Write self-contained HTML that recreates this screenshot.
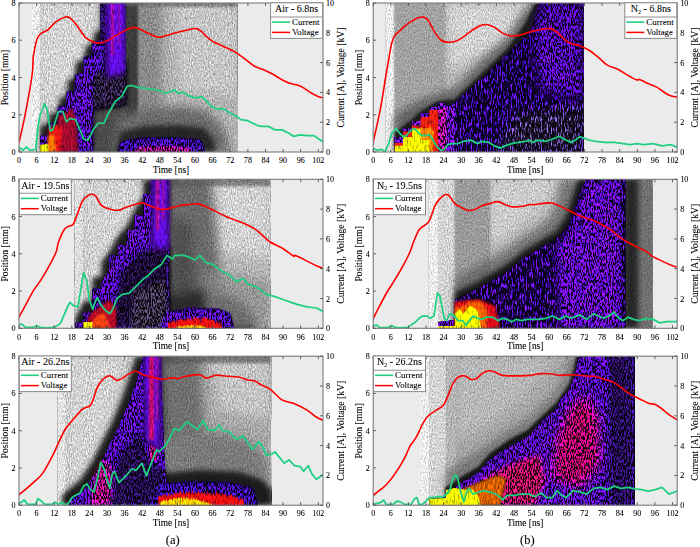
<!DOCTYPE html><html><head><meta charset="utf-8"><style>html,body{margin:0;padding:0;background:#fff;width:700px;height:547px;overflow:hidden}svg{display:block}text{font-family:"Liberation Serif", serif;fill:#000;stroke:#000;stroke-width:0.08px}.tl{font-size:8.1px}.al{font-size:9.6px}.lt{font-size:10px}.le{font-size:8.4px}.cap{font-size:12.5px}</style></head><body>
<svg width="700" height="547" viewBox="0 0 700 547">
<defs>
<filter id="b1" x="-20%" y="-20%" width="140%" height="140%"><feGaussianBlur stdDeviation="1"/></filter>
<filter id="b2" x="-20%" y="-20%" width="140%" height="140%"><feGaussianBlur stdDeviation="2.5"/></filter>
<filter id="b4" x="-30%" y="-30%" width="160%" height="160%"><feGaussianBlur stdDeviation="5"/></filter>
<filter id="mod" x="0" y="0" width="100%" height="100%" color-interpolation-filters="sRGB">
 <feTurbulence type="fractalNoise" baseFrequency="0.95 0.45" numOctaves="2" seed="3" result="t"/>
 <feColorMatrix in="t" type="matrix" values="1 0 0 0 0  1 0 0 0 0  1 0 0 0 0  0 0 0 0 1" result="n"/>
 <feComposite in="SourceGraphic" in2="n" operator="arithmetic" k1="0.8" k2="0.6" k3="0" k4="0"/>
</filter>
<filter id="modl" x="0" y="0" width="100%" height="100%" color-interpolation-filters="sRGB">
 <feTurbulence type="fractalNoise" baseFrequency="0.95 0.5" numOctaves="2" seed="5" result="t"/>
 <feColorMatrix in="t" type="matrix" values="1 0 0 0 0  1 0 0 0 0  1 0 0 0 0  0 0 0 0 1" result="n"/>
 <feComposite in="SourceGraphic" in2="n" operator="arithmetic" k1="0.7" k2="0.65" k3="0" k4="0"/>
</filter>
<filter id="mods" x="0" y="0" width="100%" height="100%" color-interpolation-filters="sRGB">
 <feTurbulence type="fractalNoise" baseFrequency="0.95 0.3" numOctaves="3" seed="11" result="t"/>
 <feComponentTransfer in="t" result="tt"><feFuncR type="linear" slope="4" intercept="-1.6"/></feComponentTransfer>
 <feColorMatrix in="tt" type="matrix" values="1 0 0 0 0  1 0 0 0 0  1 0 0 0 0  0 0 0 0 1" result="n"/>
 <feComposite in="SourceGraphic" in2="n" operator="arithmetic" k1="1.9" k2="0.1" k3="0" k4="0"/>
</filter>
<filter id="mody" x="0" y="0" width="100%" height="100%" color-interpolation-filters="sRGB">
 <feTurbulence type="fractalNoise" baseFrequency="0.7 0.2" numOctaves="3" seed="13" result="t"/>
 <feColorMatrix in="t" type="matrix" values="1 0 0 0 0  1 0 0 0 0  1 0 0 0 0  0 0 0 0 1" result="n"/>
 <feComposite in="SourceGraphic" in2="n" operator="arithmetic" k1="1.2" k2="0.4" k3="0" k4="0"/>
</filter>
<filter id="modd" x="0" y="0" width="100%" height="100%" color-interpolation-filters="sRGB">
 <feTurbulence type="fractalNoise" baseFrequency="0.8 0.18" numOctaves="3" seed="17" result="t"/>
 <feComponentTransfer in="t" result="tt"><feFuncR type="linear" slope="4" intercept="-2.0"/></feComponentTransfer>
 <feColorMatrix in="tt" type="matrix" values="1 0 0 0 0  1 0 0 0 0  1 0 0 0 0  0 0 0 0 1" result="n"/>
 <feComposite in="SourceGraphic" in2="n" operator="arithmetic" k1="1.6" k2="0.12" k3="0" k4="0"/>
</filter>
</defs>
<clipPath id="clip00"><rect x="19.0" y="3.0" width="304.0" height="149.0"/></clipPath>
<rect x="19.0" y="3.0" width="304.0" height="149.0" fill="#ebebeb"/>
<g clip-path="url(#clip00)">
<g filter="url(#mod)"><rect x="32" y="3" width="8.4" height="149" fill="#f2f2f2"/>
<rect x="40" y="3" width="197.4" height="149" fill="#c2c2c2"/>
<polygon points="40.0,3.0 100.0,3.0 92.0,40.0 70.0,80.0 40.0,120.0" fill="#d4d4d4" filter="url(#b4)"/>
<polygon points="126.0,3.0 237.0,3.0 237.0,152.0 126.0,152.0" fill="#b2b2b2" />
<polygon points="175.0,3.0 237.0,3.0 237.0,95.0 180.0,90.0" fill="#c6c6c6" filter="url(#b4)"/>
<polygon points="40.0,126.0 48.0,124.0 50.0,114.0 58.0,112.0 60.0,98.0 67.0,96.0 68.0,80.0 75.0,78.0 76.0,62.0 84.0,60.0 86.0,46.0 93.0,44.0 95.0,32.0 101.0,30.0 101.0,3.0 132.0,3.0 136.0,152.0 40.0,152.0" fill="#1e1e1e" filter="url(#b2)"/>
<polygon points="124.0,3.0 162.0,3.0 162.0,152.0 124.0,152.0" fill="#8a8a8a" filter="url(#b4)"/>
<polygon points="125.0,3.0 138.0,3.0 138.0,152.0 125.0,152.0" fill="#3e3e3e" filter="url(#b1)"/>
<polygon points="94.0,98.0 124.0,92.0 124.0,152.0 94.0,152.0" fill="#4c4c4c" filter="url(#b2)"/>
<polygon points="112.0,152.0 118.0,118.0 145.0,108.0 180.0,106.0 206.0,110.0 222.0,125.0 232.0,152.0" fill="#6a6a6a" filter="url(#b4)"/>
<polygon points="116.0,152.0 120.0,132.0 145.0,126.0 180.0,125.0 204.0,128.0 214.0,140.0 216.0,152.0" fill="#262626" filter="url(#b2)"/>
<polygon points="126.0,1.0 237.0,1.0 237.0,7.0 126.0,7.0" fill="#606060" filter="url(#b1)" opacity="0.6"/></g><g filter="url(#mods)"><polygon points="92.0,70.0 126.0,60.0 126.0,105.0 92.0,110.0" fill="#2a1a40" filter="url(#b2)"/>
<polygon points="40.4,136.0 48.3,136.0 48.3,123.7 58.2,123.7 58.2,106.4 66.9,106.4 66.9,92.0 75.5,92.0 75.5,74.3 84.1,74.3 84.1,57.0 92.8,57.0 92.8,42.0 101.4,42.0 101.4,3.0 125.0,3.0 125.0,60.0 92.6,75.0 92.6,152.0 40.4,152.0" fill="#4a0cc8" filter="url(#b1)"/>
<polygon points="101.4,3.0 107.0,3.0 107.0,70.0 101.4,80.0" fill="#2a0c60" filter="url(#b1)"/>
<polygon points="110.0,3.0 116.0,3.0 116.0,50.0 110.0,50.0" fill="#ff0830" opacity="0.4" filter="url(#b1)"/>
<polygon points="118.0,152.0 121.0,142.0 140.0,138.5 175.0,138.0 200.0,140.0 205.0,152.0" fill="#3a0aa8" filter="url(#b1)"/>
<polygon points="130.0,152.0 140.0,147.0 170.0,146.0 190.0,148.0 192.0,152.0" fill="#ff0830" filter="url(#b1)" opacity="0.45"/></g><g filter="url(#mody)"><polygon points="107.0,-2.0 125.5,-2.0 125.5,72.0 107.0,78.0" fill="#6410e8" filter="url(#b2)"/>
<polygon points="111.0,3.0 114.0,3.0 114.0,55.0 111.0,55.0" fill="#e01060" filter="url(#b1)" opacity="0.6"/>
<polygon points="118.0,3.0 120.0,3.0 120.0,45.0 118.0,45.0" fill="#d01070" filter="url(#b1)" opacity="0.5"/>
<polygon points="58.2,152.0 58.2,116.0 66.9,112.0 72.0,108.0 76.0,120.0 78.0,152.0" fill="#c8103a" filter="url(#b1)" opacity="0.8"/>
<polygon points="48.3,152.0 48.3,128.0 58.2,124.0 62.0,130.0 60.0,152.0" fill="#f01818" filter="url(#b1)"/>
<polygon points="48.3,152.0 48.3,136.0 54.0,134.0 56.0,152.0" fill="#ff8000" filter="url(#b1)"/>
<polygon points="40.4,144.7 48.3,144.0 48.3,152.0 40.4,152.0" fill="#ffff00" /></g>
<path d="M19.0,142.0C19.1,141.7 18.5,144.8 19.6,140.1C20.6,135.5 23.2,124.7 25.3,113.9C27.4,103.0 30.8,84.5 32.1,75.0C33.5,65.5 32.5,63.0 33.3,57.1C34.0,51.3 35.6,43.8 36.7,40.0C37.9,36.2 39.0,35.6 40.1,34.3C41.3,33.0 42.2,32.8 43.6,32.0C44.9,31.2 46.0,31.4 48.1,29.7C50.2,28.0 53.3,23.8 56.1,21.7C59.0,19.6 63.0,17.8 65.3,17.1C67.6,16.5 68.0,16.5 69.9,17.8C71.8,19.2 74.0,21.8 76.7,25.1C79.4,28.5 82.4,34.7 85.9,37.7C89.3,40.7 93.9,42.4 97.3,43.0C100.7,43.5 102.6,42.8 106.4,41.1C110.2,39.5 115.6,35.4 120.1,33.1C124.7,30.9 129.3,27.4 133.9,27.4C138.4,27.4 143.4,31.5 147.6,33.1C151.8,34.8 154.8,37.2 159.0,37.3C163.2,37.3 169.4,34.5 172.7,33.6C176.1,32.7 176.5,32.6 179.1,32.0C181.7,31.4 185.4,30.3 188.3,29.7C191.1,29.1 194.2,28.4 196.3,28.6C198.4,28.8 199.1,29.5 200.9,30.9C202.6,32.2 204.7,34.9 206.6,36.6C208.5,38.3 210.2,39.8 212.3,41.1C214.4,42.5 216.7,43.4 219.1,44.6C221.6,45.7 224.3,46.7 227.1,48.0C230.0,49.3 233.2,50.7 236.3,52.6C239.3,54.5 242.4,57.1 245.4,59.4C248.5,61.7 251.5,64.6 254.6,66.3C257.6,68.0 260.7,68.4 263.7,69.7C266.8,71.0 270.2,72.8 272.9,74.3C275.5,75.7 277.0,77.0 279.7,78.4C282.4,79.9 285.8,81.9 288.9,83.0C291.9,84.1 295.3,84.3 298.0,85.3C300.7,86.2 302.6,87.4 304.9,88.7C307.1,90.0 309.4,92.0 311.7,93.3C314.0,94.6 316.5,96.0 318.6,96.7C320.7,97.5 323.3,97.7 324.3,97.9" fill="none" stroke="#ff0000" stroke-width="1.6" stroke-linejoin="round"/>
<polyline points="18.9,147.0 23.0,150.4 26.4,147.0 29.9,150.4 35.6,149.3 37.9,127.6 40.1,115.0 44.7,103.6 47.0,109.3 50.4,131.0 52.7,129.9 58.4,111.6 63.0,111.6 66.4,121.9 69.9,118.4 75.6,119.6 79.0,127.6 83.6,139.0 88.1,140.1 93.9,128.7 98.4,123.0 104.1,123.0 108.7,112.7 115.6,101.3 122.4,95.6 127.0,86.4 131.6,85.3 138.4,87.6 147.6,88.7 156.7,89.9 165.9,93.3 174.6,89.9 178.0,93.3 182.6,92.1 188.3,95.6 195.1,97.9 202.0,96.7 206.6,101.3 212.3,107.0 219.1,109.3 222.6,108.1 229.4,112.7 236.3,116.1 240.9,119.6 247.7,120.7 256.9,125.3 261.4,126.4 268.3,126.4 275.1,129.9 282.0,129.9 288.9,133.3 293.4,136.3 300.3,134.9 307.1,135.6 314.0,135.6 318.6,139.0 323.1,141.7" fill="none" stroke="#1fd083" stroke-width="1.75" stroke-linejoin="round"/>
</g>
<rect x="19.0" y="3.0" width="304.0" height="149.0" fill="none" stroke="#7a7a7a" stroke-width="1.1"/>
<path d="M19.0,152.0v-3M19.0,3.0v3M36.6,152.0v-3M36.6,3.0v3M54.2,152.0v-3M54.2,3.0v3M71.8,152.0v-3M71.8,3.0v3M89.4,152.0v-3M89.4,3.0v3M107.0,152.0v-3M107.0,3.0v3M124.6,152.0v-3M124.6,3.0v3M142.2,152.0v-3M142.2,3.0v3M159.8,152.0v-3M159.8,3.0v3M177.4,152.0v-3M177.4,3.0v3M195.0,152.0v-3M195.0,3.0v3M212.6,152.0v-3M212.6,3.0v3M230.2,152.0v-3M230.2,3.0v3M247.9,152.0v-3M247.9,3.0v3M265.5,152.0v-3M265.5,3.0v3M283.1,152.0v-3M283.1,3.0v3M300.7,152.0v-3M300.7,3.0v3M318.3,152.0v-3M318.3,3.0v3M19.0,152.0h3M19.0,114.8h3M19.0,77.5h3M19.0,40.2h3M19.0,3.0h3M323.0,152.0h-3M323.0,122.2h-3M323.0,92.4h-3M323.0,62.6h-3M323.0,32.8h-3M323.0,3.0h-3" stroke="#555555" stroke-width="0.9" fill="none"/>
<text x="19.0" y="163.2" text-anchor="middle" class="tl">0</text>
<text x="36.6" y="163.2" text-anchor="middle" class="tl">6</text>
<text x="54.2" y="163.2" text-anchor="middle" class="tl">12</text>
<text x="71.8" y="163.2" text-anchor="middle" class="tl">18</text>
<text x="89.4" y="163.2" text-anchor="middle" class="tl">24</text>
<text x="107.0" y="163.2" text-anchor="middle" class="tl">30</text>
<text x="124.6" y="163.2" text-anchor="middle" class="tl">36</text>
<text x="142.2" y="163.2" text-anchor="middle" class="tl">42</text>
<text x="159.8" y="163.2" text-anchor="middle" class="tl">48</text>
<text x="177.4" y="163.2" text-anchor="middle" class="tl">54</text>
<text x="195.0" y="163.2" text-anchor="middle" class="tl">60</text>
<text x="212.6" y="163.2" text-anchor="middle" class="tl">66</text>
<text x="230.2" y="163.2" text-anchor="middle" class="tl">72</text>
<text x="247.9" y="163.2" text-anchor="middle" class="tl">78</text>
<text x="265.5" y="163.2" text-anchor="middle" class="tl">84</text>
<text x="283.1" y="163.2" text-anchor="middle" class="tl">90</text>
<text x="300.7" y="163.2" text-anchor="middle" class="tl">96</text>
<text x="318.3" y="163.2" text-anchor="middle" class="tl">102</text>
<text x="15.5" y="155.0" text-anchor="end" class="tl">0</text>
<text x="15.5" y="117.8" text-anchor="end" class="tl">2</text>
<text x="15.5" y="80.5" text-anchor="end" class="tl">4</text>
<text x="15.5" y="43.2" text-anchor="end" class="tl">6</text>
<text x="15.5" y="6.0" text-anchor="end" class="tl">8</text>
<text x="326.0" y="155.0" text-anchor="start" class="tl">0</text>
<text x="326.0" y="125.2" text-anchor="start" class="tl">2</text>
<text x="326.0" y="95.4" text-anchor="start" class="tl">4</text>
<text x="326.0" y="65.6" text-anchor="start" class="tl">6</text>
<text x="326.0" y="35.8" text-anchor="start" class="tl">8</text>
<text x="326.0" y="6.0" text-anchor="start" class="tl">10</text>
<text x="171.0" y="172.7" text-anchor="middle" class="al" textLength="36.4" lengthAdjust="spacingAndGlyphs">Time [ns]</text>
<text transform="translate(7.5,77.5) rotate(-90)" text-anchor="middle" class="al" textLength="55.5" lengthAdjust="spacingAndGlyphs">Position [mm]</text>
<text transform="translate(343.5,77.5) rotate(-90)" text-anchor="middle" class="al" textLength="100" lengthAdjust="spacingAndGlyphs">Current [A], Voltage [kV]</text>
<rect x="270.6" y="2.8" width="52" height="35.6" fill="#ffffff" stroke="#8a8a8a" stroke-width="1"/>
<line x1="270.6" y1="17.0" x2="322.6" y2="17.0" stroke="#909090" stroke-width="1.1"/>
<text x="296.6" y="12.2" text-anchor="middle" class="lt">Air - 6.8ns</text>
<line x1="272.1" y1="22.1" x2="290.1" y2="22.1" stroke="#1fd083" stroke-width="1.6"/>
<line x1="272.1" y1="32.4" x2="290.1" y2="32.4" stroke="#ff0000" stroke-width="1.5"/>
<text x="292.1" y="24.8" class="le" textLength="27.5" lengthAdjust="spacingAndGlyphs">Current</text>
<text x="292.1" y="35.0" class="le" textLength="26.5" lengthAdjust="spacingAndGlyphs">Voltage</text>
<clipPath id="clip10"><rect x="373.2" y="3.0" width="304.0" height="149.0"/></clipPath>
<rect x="373.2" y="3.0" width="304.0" height="149.0" fill="#ebebeb"/>
<g clip-path="url(#clip10)">
<g filter="url(#modl)"><rect x="385.7" y="3.0" width="9.3" height="149.0" fill="#eeeeee" />
<rect x="394.4" y="3.0" width="189.2" height="149.0" fill="#b4b4b4" />
<polygon points="447.0,3.0 545.0,3.0 525.0,25.0 490.0,50.0 450.0,70.0" fill="#d2d2d2" filter="url(#b4)"/>
<rect x="394.4" y="3.0" width="50.9" height="149.0" fill="#a2a2a2" filter="url(#b1)"/>
<polygon points="394.7,152.0 394.7,115.0 420.0,100.0 455.0,88.0 480.0,62.0 507.0,38.0 520.0,16.0 530.0,3.0 583.3,3.0 583.3,152.0" fill="#606060" filter="url(#b4)"/>
<polygon points="394.7,152.0 394.7,133.0 403.0,126.0 412.0,119.0 421.0,111.0 438.0,101.0 455.0,99.0 480.0,75.0 507.0,49.0 525.0,24.0 535.0,3.0 583.3,3.0 583.3,152.0" fill="#1c1c1c" filter="url(#b1)"/></g><g filter="url(#modd)"><polygon points="394.7,152.0 394.7,137.0 403.0,137.0 403.0,128.6 412.0,128.6 412.0,121.0 420.7,121.0 420.7,113.0 429.3,113.0 429.3,107.0 437.9,107.0 437.9,103.0 446.4,103.0 446.4,107.0 455.0,102.0 480.0,80.0 507.0,54.0 531.0,30.0 540.0,3.0 583.3,3.0 583.3,152.0" fill="#5010e0" />
<polygon points="515.0,115.0 583.3,105.0 583.3,152.0 495.0,152.0" fill="#707070" opacity="0.6" filter="url(#b4)"/></g><g filter="url(#mods)"><polygon points="394.7,152.0 394.7,137.0 403.0,137.0 403.0,128.6 412.0,128.6 412.0,121.0 420.7,121.0 420.7,113.0 429.3,113.0 429.3,107.0 437.9,107.0 437.9,103.0 446.4,103.0 446.4,107.0 455.0,104.0 455.0,152.0" fill="#5a0ee0" />
<polygon points="542.0,3.0 583.3,3.0 583.3,100.0 540.0,90.0 532.0,40.0" fill="#5a0ee0" filter="url(#b4)" opacity="0.8"/>
<polygon points="437.9,152.0 437.9,110.0 446.4,108.0 446.4,152.0" fill="#d01050" opacity="0.6"/></g><g filter="url(#mody)"><polygon points="394.7,152.0 394.7,143.0 403.0,143.0 403.0,131.4 412.0,131.4 412.0,125.7 420.7,125.7 420.7,117.0 429.3,117.0 429.3,110.0 437.9,110.0 437.9,152.0" fill="#f02010" />
<polygon points="412.0,152.0 412.0,134.0 420.7,134.0 420.7,128.0 429.3,128.0 429.3,125.0 434.0,132.0 433.0,152.0" fill="#ff8a00" opacity="0.9"/>
<polygon points="394.7,152.0 394.7,145.7 403.0,145.7 403.0,137.0 412.0,137.0 412.0,128.6 420.7,128.6 420.7,140.0 429.3,140.0 429.3,152.0" fill="#ffff00" /></g>
<path d="M373.6,142.5C373.6,142.3 372.3,146.8 373.4,141.3C374.5,135.8 378.2,120.3 380.3,109.3C382.4,98.2 384.7,82.9 386.0,75.0C387.3,67.1 387.3,67.0 388.3,61.7C389.2,56.5 390.6,47.8 391.7,43.4C392.8,39.0 393.5,37.3 394.7,35.4C395.8,33.5 397.0,33.5 398.6,32.0C400.2,30.5 402.2,28.0 404.3,26.3C406.4,24.6 408.9,23.1 411.1,21.7C413.4,20.3 415.9,18.6 418.0,17.8C420.1,17.1 422.0,16.7 423.7,17.1C425.4,17.6 426.6,18.3 428.3,20.6C430.0,22.9 431.9,27.6 434.0,30.9C436.1,34.1 438.4,38.1 440.9,40.0C443.3,41.9 446.2,42.2 448.9,42.3C451.5,42.4 454.4,41.6 456.9,40.7C459.3,39.7 461.0,38.4 463.7,36.6C466.4,34.7 469.8,31.6 472.9,29.7C475.9,27.8 479.5,26.0 482.0,25.1C484.5,24.3 485.6,24.3 487.7,24.7C489.8,25.1 492.1,26.0 494.6,27.4C497.0,28.8 499.9,31.7 502.6,33.1C505.2,34.6 507.9,35.5 510.6,35.9C513.2,36.3 515.3,36.1 518.6,35.4C521.8,34.8 527.4,32.8 530.0,32.0C532.6,31.2 531.9,31.4 534.1,30.9C536.4,30.4 540.6,29.4 543.3,29.0C546.0,28.6 547.9,28.1 550.1,28.6C552.4,29.1 554.7,30.3 557.0,32.0C559.3,33.7 561.6,37.0 563.9,38.9C566.1,40.8 568.0,42.3 570.7,43.4C573.4,44.6 576.8,44.6 579.9,45.7C582.9,46.9 586.0,48.4 589.0,50.3C592.0,52.2 595.1,54.7 598.1,57.1C601.2,59.6 603.9,63.0 607.3,65.1C610.7,67.2 615.3,68.0 618.7,69.7C622.1,71.4 624.8,73.7 627.9,75.4C630.9,77.1 635.1,79.3 637.0,80.0C638.9,80.7 637.2,78.9 639.3,79.6C641.4,80.3 646.5,82.8 649.6,84.1C652.6,85.5 654.9,86.0 657.6,87.6C660.2,89.1 663.3,91.9 665.6,93.3C667.9,94.7 669.2,95.4 671.3,96.0C673.4,96.7 677.0,97.0 678.1,97.2" fill="none" stroke="#ff0000" stroke-width="1.6" stroke-linejoin="round"/>
<polyline points="373.7,148.1 376.9,150.4 381.4,149.3 384.9,151.6 388.3,144.7 391.7,133.3 396.3,128.7 399.7,133.3 403.1,136.7 406.6,135.6 410.0,131.0 414.6,128.7 418.0,132.1 421.4,135.6 426.0,135.6 429.4,134.4 431.7,137.9 436.3,145.9 440.9,150.4 444.3,149.3 447.7,144.7 452.3,143.6 458.0,143.6 463.7,141.3 470.6,140.1 477.4,143.6 482.0,141.3 488.9,142.4 494.6,145.9 500.3,148.1 504.9,145.9 511.7,143.6 518.6,142.4 525.4,141.3 530.0,140.1 531.9,142.4 538.7,140.1 545.6,141.3 552.4,139.0 559.3,136.3 563.9,139.0 570.7,142.4 575.3,140.1 579.9,136.7 583.3,137.9 589.0,140.1 595.9,141.3 605.0,142.4 614.1,142.4 623.3,143.6 630.1,144.7 637.0,143.6 643.9,144.7 653.0,143.6 662.1,145.9 671.3,144.7 678.1,147.7" fill="none" stroke="#1fd083" stroke-width="1.75" stroke-linejoin="round"/>
</g>
<rect x="373.2" y="3.0" width="304.0" height="149.0" fill="none" stroke="#7a7a7a" stroke-width="1.1"/>
<path d="M373.2,152.0v-3M373.2,3.0v3M390.8,152.0v-3M390.8,3.0v3M408.4,152.0v-3M408.4,3.0v3M426.0,152.0v-3M426.0,3.0v3M443.6,152.0v-3M443.6,3.0v3M461.2,152.0v-3M461.2,3.0v3M478.8,152.0v-3M478.8,3.0v3M496.4,152.0v-3M496.4,3.0v3M514.0,152.0v-3M514.0,3.0v3M531.6,152.0v-3M531.6,3.0v3M549.2,152.0v-3M549.2,3.0v3M566.8,152.0v-3M566.8,3.0v3M584.4,152.0v-3M584.4,3.0v3M602.1,152.0v-3M602.1,3.0v3M619.7,152.0v-3M619.7,3.0v3M637.3,152.0v-3M637.3,3.0v3M654.9,152.0v-3M654.9,3.0v3M672.5,152.0v-3M672.5,3.0v3M373.2,152.0h3M373.2,114.8h3M373.2,77.5h3M373.2,40.2h3M373.2,3.0h3M677.2,152.0h-3M677.2,122.2h-3M677.2,92.4h-3M677.2,62.6h-3M677.2,32.8h-3M677.2,3.0h-3" stroke="#555555" stroke-width="0.9" fill="none"/>
<text x="373.2" y="163.2" text-anchor="middle" class="tl">0</text>
<text x="390.8" y="163.2" text-anchor="middle" class="tl">6</text>
<text x="408.4" y="163.2" text-anchor="middle" class="tl">12</text>
<text x="426.0" y="163.2" text-anchor="middle" class="tl">18</text>
<text x="443.6" y="163.2" text-anchor="middle" class="tl">24</text>
<text x="461.2" y="163.2" text-anchor="middle" class="tl">30</text>
<text x="478.8" y="163.2" text-anchor="middle" class="tl">36</text>
<text x="496.4" y="163.2" text-anchor="middle" class="tl">42</text>
<text x="514.0" y="163.2" text-anchor="middle" class="tl">48</text>
<text x="531.6" y="163.2" text-anchor="middle" class="tl">54</text>
<text x="549.2" y="163.2" text-anchor="middle" class="tl">60</text>
<text x="566.8" y="163.2" text-anchor="middle" class="tl">66</text>
<text x="584.4" y="163.2" text-anchor="middle" class="tl">72</text>
<text x="602.1" y="163.2" text-anchor="middle" class="tl">78</text>
<text x="619.7" y="163.2" text-anchor="middle" class="tl">84</text>
<text x="637.3" y="163.2" text-anchor="middle" class="tl">90</text>
<text x="654.9" y="163.2" text-anchor="middle" class="tl">96</text>
<text x="672.5" y="163.2" text-anchor="middle" class="tl">102</text>
<text x="369.7" y="155.0" text-anchor="end" class="tl">0</text>
<text x="369.7" y="117.8" text-anchor="end" class="tl">2</text>
<text x="369.7" y="80.5" text-anchor="end" class="tl">4</text>
<text x="369.7" y="43.2" text-anchor="end" class="tl">6</text>
<text x="369.7" y="6.0" text-anchor="end" class="tl">8</text>
<text x="680.2" y="155.0" text-anchor="start" class="tl">0</text>
<text x="680.2" y="125.2" text-anchor="start" class="tl">2</text>
<text x="680.2" y="95.4" text-anchor="start" class="tl">4</text>
<text x="680.2" y="65.6" text-anchor="start" class="tl">6</text>
<text x="680.2" y="35.8" text-anchor="start" class="tl">8</text>
<text x="680.2" y="6.0" text-anchor="start" class="tl">10</text>
<text x="525.2" y="172.7" text-anchor="middle" class="al" textLength="36.4" lengthAdjust="spacingAndGlyphs">Time [ns]</text>
<text transform="translate(361.7,77.5) rotate(-90)" text-anchor="middle" class="al" textLength="55.5" lengthAdjust="spacingAndGlyphs">Position [mm]</text>
<text transform="translate(697.7,77.5) rotate(-90)" text-anchor="middle" class="al" textLength="100" lengthAdjust="spacingAndGlyphs">Current [A], Voltage [kV]</text>
<rect x="624.8" y="2.8" width="52" height="35.6" fill="#ffffff" stroke="#8a8a8a" stroke-width="1"/>
<line x1="624.8" y1="17.0" x2="676.8" y2="17.0" stroke="#909090" stroke-width="1.1"/>
<text x="650.8" y="12.2" text-anchor="middle" class="lt">N<tspan font-size="6" dy="1.5">2</tspan><tspan dy="-1.5"> - 6.8ns</tspan></text>
<line x1="626.3" y1="22.1" x2="644.3" y2="22.1" stroke="#1fd083" stroke-width="1.6"/>
<line x1="626.3" y1="32.4" x2="644.3" y2="32.4" stroke="#ff0000" stroke-width="1.5"/>
<text x="646.3" y="24.8" class="le" textLength="27.5" lengthAdjust="spacingAndGlyphs">Current</text>
<text x="646.3" y="35.0" class="le" textLength="26.5" lengthAdjust="spacingAndGlyphs">Voltage</text>
<clipPath id="clip01"><rect x="19.0" y="179.3" width="304.0" height="149.0"/></clipPath>
<rect x="19.0" y="179.3" width="304.0" height="149.0" fill="#ebebeb"/>
<g clip-path="url(#clip01)">
<g filter="url(#mod)"><rect x="74.2" y="179.3" width="9.6" height="149.0" fill="#e0e0e0" />
<rect x="83.2" y="179.3" width="187.7" height="149.0" fill="#c4c4c4" />
<polygon points="83.5,179.3 150.0,179.3 130.0,215.0 100.0,280.0 83.5,300.0" fill="#d2d2d2" filter="url(#b4)"/>
<polygon points="169.0,179.3 270.6,179.3 270.6,328.3 169.0,328.3" fill="#b6b6b6" />
<polygon points="215.0,179.3 270.6,179.3 270.6,260.0 222.0,250.0" fill="#d2d2d2" filter="url(#b4)"/>
<polygon points="75.0,328.3 75.0,318.0 83.5,302.0 92.5,300.0 92.5,278.0 101.5,276.0 101.5,262.0 109.0,252.0 118.0,236.0 127.0,226.0 134.5,210.0 143.5,196.0 143.5,180.0 152.0,179.3 175.0,179.3 175.0,328.3" fill="#1e1e1e" filter="url(#b2)"/>
<polygon points="169.0,179.3 210.0,179.3 222.0,290.0 169.0,328.3" fill="#6a6a6a" filter="url(#b4)"/>
<polygon points="169.0,215.0 192.0,225.0 195.0,290.0 169.0,300.0" fill="#505050" filter="url(#b4)"/>
<ellipse cx="199" cy="330" rx="58" ry="40" fill="#2a2a2a" filter="url(#b4)"/>
<polygon points="205.0,270.0 270.6,280.0 270.6,328.3 205.0,328.3" fill="#8a8a8a" filter="url(#b4)" opacity="0.7"/>
<polygon points="169.0,177.3 270.6,177.3 270.6,186.3 169.0,186.3" fill="#505050" filter="url(#b1)" opacity="0.6"/></g><g filter="url(#mods)"><polygon points="75.0,328.3 75.0,323.0 83.5,322.0 83.5,312.5 92.5,312.5 92.5,288.5 101.5,288.5 101.5,282.0 109.0,270.0 109.0,255.5 118.0,255.5 118.0,245.0 127.0,245.0 127.0,230.0 134.5,230.0 134.5,215.0 143.5,215.0 143.5,194.0 152.5,194.0 152.5,179.3 169.0,179.3 169.0,328.3" fill="#4a0cc0" />
<polygon points="112.0,328.3 120.0,272.0 140.0,250.0 169.0,245.0 169.0,328.3" fill="#120a20" opacity="0.85" filter="url(#b2)"/>
<polygon points="130.0,328.3 135.0,290.0 165.0,280.0 169.0,328.3" fill="#505050" opacity="0.5" filter="url(#b2)"/>
<polygon points="155.0,179.3 167.0,179.3 167.0,250.0 155.0,250.0" fill="#a0106a" opacity="0.5" filter="url(#b1)"/>
<polygon points="160.0,328.3 166.0,313.0 190.0,308.6 218.0,309.0 230.0,314.0 234.0,328.3" fill="#4a0cc8" filter="url(#b1)"/></g><g filter="url(#mody)"><polygon points="152.0,175.3 168.5,175.3 168.5,250.0 152.0,248.0" fill="#6410e8" filter="url(#b2)"/>
<polygon points="156.0,179.3 159.0,179.3 159.0,230.0 156.0,230.0" fill="#f01040" filter="url(#b1)" opacity="0.6"/>
<polygon points="162.0,179.3 164.5,179.3 164.5,220.0 162.0,220.0" fill="#e01060" filter="url(#b1)" opacity="0.5"/>
<polygon points="88.0,328.3 88.0,318.0 92.5,312.0 101.5,306.0 109.0,300.0 116.0,308.0 116.0,328.3" fill="#e01030" filter="url(#b1)" opacity="0.85"/>
<polygon points="92.0,328.3 94.0,318.0 104.0,312.0 108.0,322.0 110.0,328.3" fill="#ff5010" filter="url(#b1)" opacity="0.8"/>
<polygon points="83.5,328.3 83.5,322.0 92.5,322.0 92.5,328.3" fill="#ffff00" />
<polygon points="168.0,328.3 168.0,323.7 169.2,321.3 170.5,324.7 171.8,321.0 173.0,322.2 174.2,319.4 175.5,323.8 176.8,319.4 178.0,322.0 179.2,319.4 180.5,319.5 181.8,318.6 183.0,321.3 184.2,318.8 185.5,321.8 186.8,318.1 188.0,319.3 189.2,318.2 190.5,322.1 191.8,316.4 193.0,321.5 194.2,316.5 195.5,318.1 196.8,317.2 198.0,320.1 199.2,317.8 200.5,322.0 201.8,317.3 203.0,319.1 204.2,316.5 205.5,319.3 206.8,316.5 208.0,321.0 209.2,317.8 210.5,321.0 211.8,318.5 213.0,321.0 214.2,320.1 215.5,324.3 216.8,320.3 218.0,324.7 219.2,321.1 220.5,326.3 221.8,320.3 222.0,328.3" fill="#f01010" />
<polygon points="176.0,328.3 176.0,328.5 177.0,326.1 178.0,327.7 179.0,325.6 180.0,326.3 181.0,325.5 182.0,327.4 183.0,325.5 184.0,327.3 185.0,324.4 186.0,326.0 187.0,324.8 188.0,326.0 189.0,324.6 190.0,327.0 191.0,324.5 192.0,325.1 193.0,324.9 194.0,326.5 195.0,323.9 196.0,326.2 197.0,324.6 198.0,326.5 199.0,324.5 200.0,326.2 201.0,325.0 202.0,327.2 203.0,325.3 204.0,326.9 205.0,326.3 206.0,327.7 207.0,325.9 206.0,328.3" fill="#ffc000" /></g>
<path d="M19.0,319.0C18.9,318.9 17.4,320.5 18.4,318.3C19.5,316.1 22.8,310.3 25.3,305.7C27.8,301.1 30.6,295.2 33.3,290.9C36.0,286.5 38.6,283.6 41.3,279.4C44.0,275.2 46.8,270.3 49.3,265.7C51.8,261.1 54.6,255.9 56.1,252.0C57.7,248.1 57.1,246.0 58.4,242.3C59.8,238.6 62.4,232.4 64.1,229.7C65.9,227.0 67.2,227.2 68.7,226.3C70.2,225.3 71.8,226.3 73.3,224.0C74.8,221.7 76.3,216.4 77.9,212.6C79.4,208.8 80.7,204.0 82.4,201.1C84.1,198.3 86.4,196.6 88.1,195.4C89.9,194.3 91.4,194.1 92.7,194.3C94.0,194.5 94.8,194.9 96.1,196.6C97.5,198.3 99.0,202.7 100.7,204.6C102.4,206.5 103.6,207.0 106.4,208.0C109.3,209.0 114.4,210.5 117.9,210.3C121.3,210.1 123.6,208.0 127.0,206.9C130.4,205.7 135.8,204.1 138.4,203.4C141.1,202.8 141.1,202.6 143.0,203.0C144.9,203.4 147.2,204.7 149.9,205.7C152.5,206.7 156.3,208.6 159.0,209.1C161.7,209.7 163.2,209.5 165.9,209.1C168.5,208.8 172.8,207.4 175.0,206.9C177.2,206.3 176.9,206.1 179.1,205.7C181.4,205.3 185.2,204.9 188.3,204.6C191.3,204.3 194.4,203.5 197.4,203.9C200.5,204.3 203.5,205.6 206.6,206.9C209.6,208.1 212.7,209.9 215.7,211.4C218.8,213.0 221.4,214.5 224.9,216.0C228.3,217.5 232.9,219.2 236.3,220.6C239.7,221.9 242.2,222.5 245.4,224.0C248.7,225.5 252.7,227.6 255.7,229.7C258.8,231.8 261.2,234.5 263.7,236.6C266.2,238.7 267.5,240.4 270.6,242.3C273.6,244.2 278.2,245.7 282.0,248.0C285.8,250.3 291.1,254.8 293.4,256.0C295.7,257.2 293.4,254.6 295.7,255.4C298.0,256.3 303.7,259.4 307.1,261.1C310.6,262.9 313.6,264.5 316.3,265.7C319.0,266.9 322.0,268.0 323.1,268.5" fill="none" stroke="#ff0000" stroke-width="1.6" stroke-linejoin="round"/>
<polyline points="18.9,325.1 21.9,324.0 25.3,327.4 33.3,327.4 36.7,325.6 40.1,327.4 45.9,327.9 53.9,327.4 57.3,325.6 60.7,322.9 64.1,314.9 67.6,306.9 69.9,302.3 73.3,305.7 77.9,306.9 81.3,286.3 83.6,272.6 87.0,281.7 89.3,300.0 92.7,309.1 95.0,302.3 97.3,297.7 100.7,304.6 105.3,310.3 109.9,313.7 113.3,308.0 116.7,298.9 122.4,294.3 129.3,293.1 136.1,286.3 143.0,279.4 147.6,276.0 154.4,269.1 161.3,264.6 167.0,255.4 172.7,258.9 174.6,255.4 183.7,255.4 190.6,257.7 195.1,260.0 199.7,255.4 205.4,262.3 213.4,264.6 220.3,270.3 227.1,273.7 230.6,276.0 236.3,281.7 243.1,278.3 247.7,284.0 254.6,286.3 259.1,288.6 266.0,294.3 275.1,296.6 284.3,300.0 291.1,302.3 298.0,304.6 307.1,306.9 316.3,308.0 323.1,311.4" fill="none" stroke="#1fd083" stroke-width="1.75" stroke-linejoin="round"/>
</g>
<rect x="19.0" y="179.3" width="304.0" height="149.0" fill="none" stroke="#7a7a7a" stroke-width="1.1"/>
<path d="M19.0,328.3v-3M19.0,179.3v3M36.6,328.3v-3M36.6,179.3v3M54.2,328.3v-3M54.2,179.3v3M71.8,328.3v-3M71.8,179.3v3M89.4,328.3v-3M89.4,179.3v3M107.0,328.3v-3M107.0,179.3v3M124.6,328.3v-3M124.6,179.3v3M142.2,328.3v-3M142.2,179.3v3M159.8,328.3v-3M159.8,179.3v3M177.4,328.3v-3M177.4,179.3v3M195.0,328.3v-3M195.0,179.3v3M212.6,328.3v-3M212.6,179.3v3M230.2,328.3v-3M230.2,179.3v3M247.9,328.3v-3M247.9,179.3v3M265.5,328.3v-3M265.5,179.3v3M283.1,328.3v-3M283.1,179.3v3M300.7,328.3v-3M300.7,179.3v3M318.3,328.3v-3M318.3,179.3v3M19.0,328.3h3M19.0,291.1h3M19.0,253.8h3M19.0,216.6h3M19.0,179.3h3M323.0,328.3h-3M323.0,298.5h-3M323.0,268.7h-3M323.0,238.9h-3M323.0,209.1h-3M323.0,179.3h-3" stroke="#555555" stroke-width="0.9" fill="none"/>
<text x="19.0" y="339.5" text-anchor="middle" class="tl">0</text>
<text x="36.6" y="339.5" text-anchor="middle" class="tl">6</text>
<text x="54.2" y="339.5" text-anchor="middle" class="tl">12</text>
<text x="71.8" y="339.5" text-anchor="middle" class="tl">18</text>
<text x="89.4" y="339.5" text-anchor="middle" class="tl">24</text>
<text x="107.0" y="339.5" text-anchor="middle" class="tl">30</text>
<text x="124.6" y="339.5" text-anchor="middle" class="tl">36</text>
<text x="142.2" y="339.5" text-anchor="middle" class="tl">42</text>
<text x="159.8" y="339.5" text-anchor="middle" class="tl">48</text>
<text x="177.4" y="339.5" text-anchor="middle" class="tl">54</text>
<text x="195.0" y="339.5" text-anchor="middle" class="tl">60</text>
<text x="212.6" y="339.5" text-anchor="middle" class="tl">66</text>
<text x="230.2" y="339.5" text-anchor="middle" class="tl">72</text>
<text x="247.9" y="339.5" text-anchor="middle" class="tl">78</text>
<text x="265.5" y="339.5" text-anchor="middle" class="tl">84</text>
<text x="283.1" y="339.5" text-anchor="middle" class="tl">90</text>
<text x="300.7" y="339.5" text-anchor="middle" class="tl">96</text>
<text x="318.3" y="339.5" text-anchor="middle" class="tl">102</text>
<text x="15.5" y="331.3" text-anchor="end" class="tl">0</text>
<text x="15.5" y="294.1" text-anchor="end" class="tl">2</text>
<text x="15.5" y="256.8" text-anchor="end" class="tl">4</text>
<text x="15.5" y="219.6" text-anchor="end" class="tl">6</text>
<text x="15.5" y="182.3" text-anchor="end" class="tl">8</text>
<text x="326.0" y="331.3" text-anchor="start" class="tl">0</text>
<text x="326.0" y="301.5" text-anchor="start" class="tl">2</text>
<text x="326.0" y="271.7" text-anchor="start" class="tl">4</text>
<text x="326.0" y="241.9" text-anchor="start" class="tl">6</text>
<text x="326.0" y="212.1" text-anchor="start" class="tl">8</text>
<text x="326.0" y="182.3" text-anchor="start" class="tl">10</text>
<text x="171.0" y="349.0" text-anchor="middle" class="al" textLength="36.4" lengthAdjust="spacingAndGlyphs">Time [ns]</text>
<text transform="translate(7.5,253.8) rotate(-90)" text-anchor="middle" class="al" textLength="55.5" lengthAdjust="spacingAndGlyphs">Position [mm]</text>
<text transform="translate(343.5,253.8) rotate(-90)" text-anchor="middle" class="al" textLength="100" lengthAdjust="spacingAndGlyphs">Current [A], Voltage [kV]</text>
<rect x="19.3" y="179.1" width="52" height="35.6" fill="#ffffff" stroke="#8a8a8a" stroke-width="1"/>
<line x1="19.3" y1="193.3" x2="71.3" y2="193.3" stroke="#909090" stroke-width="1.1"/>
<text x="45.3" y="188.5" text-anchor="middle" class="lt">Air - 19.5ns</text>
<line x1="20.8" y1="198.4" x2="38.8" y2="198.4" stroke="#1fd083" stroke-width="1.6"/>
<line x1="20.8" y1="208.7" x2="38.8" y2="208.7" stroke="#ff0000" stroke-width="1.5"/>
<text x="40.8" y="201.1" class="le" textLength="27.5" lengthAdjust="spacingAndGlyphs">Current</text>
<text x="40.8" y="211.3" class="le" textLength="26.5" lengthAdjust="spacingAndGlyphs">Voltage</text>
<clipPath id="clip11"><rect x="373.2" y="179.3" width="304.0" height="149.0"/></clipPath>
<rect x="373.2" y="179.3" width="304.0" height="149.0" fill="#ebebeb"/>
<g clip-path="url(#clip11)">
<g filter="url(#modl)"><rect x="428.7" y="179.3" width="9.6" height="149.0" fill="#eeeeee" />
<rect x="437.7" y="179.3" width="17.6" height="149.0" fill="#d4d4d4" />
<rect x="454.7" y="179.3" width="197.5" height="149.0" fill="#bcbcbc" />
<polygon points="490.0,179.3 560.0,179.3 540.0,205.0 505.0,235.0 490.0,240.0" fill="#cccccc" filter="url(#b4)"/>
<rect x="454.7" y="179.3" width="35.6" height="149.0" fill="#9a9a9a" filter="url(#b1)"/>
<polygon points="455.0,328.3 455.0,278.0 474.0,268.0 490.0,258.0 507.0,248.0 523.0,236.0 540.0,226.0 552.0,214.0 558.0,195.0 560.0,179.3 651.9,179.3 651.9,328.3" fill="#5a5a5a" filter="url(#b4)" opacity="0.75"/>
<polygon points="455.0,328.3 455.0,292.0 474.3,284.0 490.7,274.0 507.2,264.0 523.6,251.0 540.0,241.0 556.4,231.0 566.0,217.0 574.0,192.0 578.0,179.3 625.5,179.3 625.5,328.3" fill="#141414" filter="url(#b2)"/>
<rect x="625.2" y="179.3" width="27.0" height="149.0" fill="#707070" />
<rect x="623.7" y="179.3" width="14.6" height="149.0" fill="#262626" filter="url(#b2)"/></g><g filter="url(#modd)"><polygon points="455.2,328.3 455.2,299.2 474.3,291.0 490.7,281.2 507.2,271.3 523.6,258.2 540.0,248.3 556.4,238.4 569.6,225.3 579.5,195.7 586.0,179.3 625.5,179.3 625.5,328.3" fill="#5a10e8" /></g><g filter="url(#mods)"><polygon points="588.0,179.3 622.0,179.3 622.0,328.3 560.0,328.3 556.0,250.0 570.0,228.0 580.0,200.0" fill="#6010f0" filter="url(#b2)" opacity="0.9"/>
<polygon points="438.0,328.3 438.0,322.0 455.0,320.0 455.0,328.3" fill="#4a0cc0" /></g><g filter="url(#mody)"><polygon points="455.0,328.3 455.0,302.0 478.0,299.0 495.0,306.0 500.0,328.3" fill="#e0101a" filter="url(#b1)"/>
<polygon points="455.0,328.3 455.0,308.0 466.0,305.0 470.0,301.0 482.0,302.0 488.0,312.0 486.0,328.3" fill="#ff6a00" filter="url(#b1)" opacity="0.85"/>
<polygon points="455.0,328.3 455.0,313.0 460.0,309.0 463.0,314.0 470.0,306.0 476.0,309.0 479.0,315.0 481.0,328.3" fill="#ffff00" />
<polygon points="438.0,328.3 438.0,326.0 455.0,326.0 455.0,328.3" fill="#ffee00" /></g>
<path d="M373.6,319.5C373.6,319.3 372.5,320.4 373.4,318.3C374.4,316.2 376.9,311.2 379.1,306.9C381.4,302.5 384.5,296.6 387.1,292.0C389.8,287.4 392.5,283.8 395.1,279.4C397.8,275.0 400.7,270.3 403.1,265.7C405.6,261.1 408.3,255.9 410.0,252.0C411.7,248.1 411.9,246.0 413.4,242.3C415.0,238.6 417.2,232.6 419.1,229.7C421.0,226.9 423.1,226.7 424.9,225.1C426.6,223.6 427.7,223.8 429.4,220.6C431.1,217.3 433.4,209.3 435.1,205.7C436.9,202.1 438.2,200.6 439.7,198.9C441.2,197.1 442.8,195.5 444.3,195.0C445.8,194.4 447.1,194.0 448.9,195.4C450.6,196.8 452.7,201.5 454.6,203.4C456.5,205.3 458.2,205.7 460.3,206.9C462.4,208.0 464.9,209.8 467.1,210.3C469.4,210.8 471.5,210.6 474.0,209.8C476.5,209.1 479.3,206.8 482.0,205.7C484.7,204.6 487.3,204.1 490.0,203.4C492.7,202.7 495.5,201.4 498.0,201.6C500.5,201.8 502.4,203.7 504.9,204.6C507.3,205.4 510.2,206.6 512.9,206.9C515.5,207.2 518.0,206.8 520.9,206.4C523.7,206.0 527.8,204.9 530.0,204.6C532.2,204.3 531.9,204.8 534.1,204.6C536.4,204.4 540.4,203.7 543.3,203.4C546.1,203.2 548.6,202.6 551.3,203.0C554.0,203.4 556.4,204.5 559.3,205.7C562.1,206.9 565.4,208.8 568.4,210.3C571.5,211.8 574.5,213.5 577.6,214.9C580.6,216.2 584.0,217.3 586.7,218.3C589.4,219.2 590.9,219.4 593.6,220.6C596.2,221.7 599.9,223.6 602.7,225.1C605.6,226.7 608.0,227.8 610.7,229.7C613.4,231.6 615.9,234.5 618.7,236.6C621.6,238.7 624.8,240.6 627.9,242.3C630.9,244.0 634.0,245.3 637.0,246.9C640.0,248.4 643.5,249.8 646.1,251.4C648.8,253.0 650.3,255.0 653.0,256.6C655.7,258.2 659.1,259.7 662.1,261.1C665.2,262.6 668.6,264.2 671.3,265.3C674.0,266.3 677.0,267.2 678.1,267.5" fill="none" stroke="#ff0000" stroke-width="1.6" stroke-linejoin="round"/>
<polyline points="373.7,325.6 376.9,325.1 380.3,327.9 388.3,327.4 391.7,325.6 395.1,327.4 399.7,327.9 407.7,327.4 411.1,325.1 415.7,321.7 419.1,318.3 422.6,316.0 427.1,316.0 430.6,318.3 434.0,316.0 437.4,293.1 439.7,295.4 442.0,306.9 444.3,318.3 446.6,320.6 450.0,313.7 453.4,314.9 458.0,320.6 462.6,320.6 466.0,325.1 469.4,320.6 472.9,316.0 477.4,318.3 482.0,319.4 486.6,317.1 492.3,317.1 498.0,320.6 502.6,318.3 507.1,319.4 511.7,321.7 516.3,319.4 520.9,320.6 527.7,319.4 531.9,319.4 538.7,319.4 545.6,318.3 552.4,316.0 559.3,319.4 566.1,316.0 570.7,318.3 579.9,314.9 586.7,319.4 593.6,313.7 598.1,316.0 603.9,318.3 610.7,314.9 614.1,311.9 618.7,318.3 623.3,320.6 627.9,317.1 633.6,319.4 639.3,320.6 646.1,318.3 653.0,319.4 659.9,322.9 666.7,321.7 678.1,321.7" fill="none" stroke="#1fd083" stroke-width="1.75" stroke-linejoin="round"/>
</g>
<rect x="373.2" y="179.3" width="304.0" height="149.0" fill="none" stroke="#7a7a7a" stroke-width="1.1"/>
<path d="M373.2,328.3v-3M373.2,179.3v3M390.8,328.3v-3M390.8,179.3v3M408.4,328.3v-3M408.4,179.3v3M426.0,328.3v-3M426.0,179.3v3M443.6,328.3v-3M443.6,179.3v3M461.2,328.3v-3M461.2,179.3v3M478.8,328.3v-3M478.8,179.3v3M496.4,328.3v-3M496.4,179.3v3M514.0,328.3v-3M514.0,179.3v3M531.6,328.3v-3M531.6,179.3v3M549.2,328.3v-3M549.2,179.3v3M566.8,328.3v-3M566.8,179.3v3M584.4,328.3v-3M584.4,179.3v3M602.1,328.3v-3M602.1,179.3v3M619.7,328.3v-3M619.7,179.3v3M637.3,328.3v-3M637.3,179.3v3M654.9,328.3v-3M654.9,179.3v3M672.5,328.3v-3M672.5,179.3v3M373.2,328.3h3M373.2,291.1h3M373.2,253.8h3M373.2,216.6h3M373.2,179.3h3M677.2,328.3h-3M677.2,298.5h-3M677.2,268.7h-3M677.2,238.9h-3M677.2,209.1h-3M677.2,179.3h-3" stroke="#555555" stroke-width="0.9" fill="none"/>
<text x="373.2" y="339.5" text-anchor="middle" class="tl">0</text>
<text x="390.8" y="339.5" text-anchor="middle" class="tl">6</text>
<text x="408.4" y="339.5" text-anchor="middle" class="tl">12</text>
<text x="426.0" y="339.5" text-anchor="middle" class="tl">18</text>
<text x="443.6" y="339.5" text-anchor="middle" class="tl">24</text>
<text x="461.2" y="339.5" text-anchor="middle" class="tl">30</text>
<text x="478.8" y="339.5" text-anchor="middle" class="tl">36</text>
<text x="496.4" y="339.5" text-anchor="middle" class="tl">42</text>
<text x="514.0" y="339.5" text-anchor="middle" class="tl">48</text>
<text x="531.6" y="339.5" text-anchor="middle" class="tl">54</text>
<text x="549.2" y="339.5" text-anchor="middle" class="tl">60</text>
<text x="566.8" y="339.5" text-anchor="middle" class="tl">66</text>
<text x="584.4" y="339.5" text-anchor="middle" class="tl">72</text>
<text x="602.1" y="339.5" text-anchor="middle" class="tl">78</text>
<text x="619.7" y="339.5" text-anchor="middle" class="tl">84</text>
<text x="637.3" y="339.5" text-anchor="middle" class="tl">90</text>
<text x="654.9" y="339.5" text-anchor="middle" class="tl">96</text>
<text x="672.5" y="339.5" text-anchor="middle" class="tl">102</text>
<text x="369.7" y="331.3" text-anchor="end" class="tl">0</text>
<text x="369.7" y="294.1" text-anchor="end" class="tl">2</text>
<text x="369.7" y="256.8" text-anchor="end" class="tl">4</text>
<text x="369.7" y="219.6" text-anchor="end" class="tl">6</text>
<text x="369.7" y="182.3" text-anchor="end" class="tl">8</text>
<text x="680.2" y="331.3" text-anchor="start" class="tl">0</text>
<text x="680.2" y="301.5" text-anchor="start" class="tl">2</text>
<text x="680.2" y="271.7" text-anchor="start" class="tl">4</text>
<text x="680.2" y="241.9" text-anchor="start" class="tl">6</text>
<text x="680.2" y="212.1" text-anchor="start" class="tl">8</text>
<text x="680.2" y="182.3" text-anchor="start" class="tl">10</text>
<text x="525.2" y="349.0" text-anchor="middle" class="al" textLength="36.4" lengthAdjust="spacingAndGlyphs">Time [ns]</text>
<text transform="translate(361.7,253.8) rotate(-90)" text-anchor="middle" class="al" textLength="55.5" lengthAdjust="spacingAndGlyphs">Position [mm]</text>
<text transform="translate(697.7,253.8) rotate(-90)" text-anchor="middle" class="al" textLength="100" lengthAdjust="spacingAndGlyphs">Current [A], Voltage [kV]</text>
<rect x="373.5" y="179.1" width="52" height="35.6" fill="#ffffff" stroke="#8a8a8a" stroke-width="1"/>
<line x1="373.5" y1="193.3" x2="425.5" y2="193.3" stroke="#909090" stroke-width="1.1"/>
<text x="399.5" y="188.5" text-anchor="middle" class="lt">N<tspan font-size="6" dy="1.5">2</tspan><tspan dy="-1.5"> - 19.5ns</tspan></text>
<line x1="375.0" y1="198.4" x2="393.0" y2="198.4" stroke="#1fd083" stroke-width="1.6"/>
<line x1="375.0" y1="208.7" x2="393.0" y2="208.7" stroke="#ff0000" stroke-width="1.5"/>
<text x="395.0" y="201.1" class="le" textLength="27.5" lengthAdjust="spacingAndGlyphs">Current</text>
<text x="395.0" y="211.3" class="le" textLength="26.5" lengthAdjust="spacingAndGlyphs">Voltage</text>
<clipPath id="clip02"><rect x="19.0" y="356.2" width="304.0" height="149.0"/></clipPath>
<rect x="19.0" y="356.2" width="304.0" height="149.0" fill="#ebebeb"/>
<g clip-path="url(#clip02)">
<g filter="url(#mod)"><rect x="57.2" y="356.2" width="9.1" height="149.0" fill="#e6e6e6" />
<rect x="65.7" y="356.2" width="205.2" height="149.0" fill="#c2c2c2" />
<polygon points="66.0,356.2 125.0,356.2 110.0,420.0 85.0,470.0 66.0,490.0" fill="#d2d2d2" filter="url(#b4)"/>
<polygon points="165.0,356.2 270.6,356.2 270.6,505.2 165.0,505.2" fill="#a8a8a8" />
<polygon points="210.0,356.2 270.6,356.2 270.6,420.0 220.0,410.0" fill="#c4c4c4" filter="url(#b4)"/>
<polygon points="62.0,505.2 62.0,495.0 80.0,480.0 92.0,462.0 104.0,438.0 113.0,420.0 122.0,398.0 131.0,372.0 136.0,356.2 175.0,356.2 175.0,505.2" fill="#1e1e1e" filter="url(#b2)"/>
<polygon points="160.0,356.2 200.0,356.2 205.0,440.0 165.0,460.0" fill="#707070" filter="url(#b4)"/>
<polygon points="160.0,505.2 160.0,440.0 210.0,430.0 250.0,440.0 268.0,460.0 268.0,505.2" fill="#7a7a7a" filter="url(#b4)"/>
<polygon points="155.0,505.2 158.0,474.0 200.0,470.0 240.0,472.0 262.0,480.0 272.0,490.0 272.0,505.2" fill="#1a1a1a" filter="url(#b2)"/>
<polygon points="160.0,354.2 270.6,354.2 270.6,363.2 160.0,363.2" fill="#505050" filter="url(#b1)" opacity="0.6"/></g><g filter="url(#mods)"><polygon points="67.6,505.2 67.6,502.3 83.3,491.3 95.9,472.4 108.4,447.3 117.9,428.4 127.3,406.4 136.7,381.3 143.0,356.2 160.3,356.2 165.0,470.0 168.0,505.2" fill="#4a0cc0" />
<polygon points="110.0,505.2 118.0,455.0 140.0,430.0 150.0,460.0 165.0,470.0 165.0,505.2" fill="#120828" opacity="0.75" filter="url(#b2)"/>
<polygon points="148.0,356.2 158.0,356.2 157.0,460.0 150.0,460.0" fill="#ff0820" opacity="0.6" filter="url(#b1)"/>
<polygon points="90.0,505.2 96.0,472.0 104.0,458.0 112.0,470.0 110.0,505.2" fill="#ff0820" opacity="0.5" filter="url(#b2)"/>
<polygon points="150.0,505.2 158.0,485.0 190.0,482.0 230.0,483.0 252.0,488.0 258.0,505.2" fill="#3408a0" filter="url(#b1)"/></g><g filter="url(#mody)"><polygon points="143.5,352.2 160.0,352.2 160.0,450.0 145.0,440.0" fill="#6410e8" filter="url(#b2)"/>
<polygon points="149.0,356.2 154.0,356.2 154.0,440.0 149.0,440.0" fill="#f01030" filter="url(#b1)" opacity="0.7"/>
<polygon points="156.0,356.2 158.5,356.2 158.5,420.0 156.0,420.0" fill="#e01060" filter="url(#b1)" opacity="0.5"/>
<polygon points="158.0,505.2 158.0,497.0 159.5,495.8 161.0,497.0 162.5,495.1 164.0,495.1 165.5,493.9 167.0,498.0 168.5,492.4 170.0,496.9 171.5,493.3 173.0,495.6 174.5,492.8 176.0,493.8 177.5,492.8 179.0,493.6 180.5,490.5 182.0,495.8 183.5,490.6 185.0,495.5 186.5,491.8 188.0,493.4 189.5,490.6 191.0,495.0 192.5,490.0 194.0,495.5 195.5,491.8 197.0,494.4 198.5,490.4 200.0,494.1 201.5,491.6 203.0,494.1 204.5,492.0 206.0,496.1 207.5,490.3 209.0,494.8 210.5,491.9 212.0,496.5 213.5,491.5 215.0,496.7 216.5,491.1 218.0,495.6 219.5,492.6 221.0,496.4 222.5,493.0 224.0,495.1 225.5,493.8 227.0,498.3 228.5,494.9 230.0,495.8 231.5,494.1 233.0,497.4 234.5,495.0 236.0,498.9 237.5,496.2 239.0,501.7 240.5,497.3 242.0,500.2 243.5,498.1 244.0,505.2" fill="#f01010" />
<polygon points="160.0,505.2 160.0,503.5 161.2,501.1 162.5,501.9 163.8,499.5 165.0,501.1 166.2,499.1 167.5,502.3 168.8,499.4 170.0,499.2 171.2,498.7 172.5,501.0 173.8,497.6 175.0,499.1 176.2,497.8 177.5,498.7 178.8,497.3 180.0,498.2 181.2,496.8 182.5,500.7 183.8,496.3 185.0,500.3 186.2,496.3 187.5,498.3 188.8,497.7 190.0,501.4 191.2,497.1 192.5,500.0 193.8,497.1 195.0,501.1 196.2,497.8 197.5,500.7 198.8,499.4 200.0,501.7 201.2,500.2 202.5,502.3 203.8,499.4 205.0,502.9 206.2,501.9 207.5,502.9 208.8,502.5 210.0,506.2 211.2,503.1 212.0,505.2" fill="#ffd000" /></g>
<path d="M19.0,496.0C18.9,495.9 17.4,496.4 18.4,495.3C19.5,494.2 22.8,491.7 25.3,489.6C27.8,487.5 30.4,485.4 33.3,482.7C36.1,480.0 39.2,478.1 42.4,473.6C45.7,469.0 49.9,460.8 52.7,455.3C55.6,449.8 57.5,444.8 59.6,440.4C61.7,436.0 64.0,431.4 65.3,429.0C66.6,426.6 66.0,428.0 67.6,426.1C69.1,424.3 72.1,420.8 74.4,418.1C76.7,415.5 79.4,411.9 81.3,410.1C83.2,408.4 84.3,408.2 85.9,407.4C87.4,406.6 89.1,407.2 90.4,405.6C91.8,403.9 92.7,400.6 93.9,397.6C95.0,394.5 95.8,390.3 97.3,387.3C98.8,384.2 101.1,381.2 103.0,379.3C104.9,377.4 107.2,376.2 108.7,375.9C110.2,375.5 110.8,376.2 112.1,377.0C113.5,377.8 115.0,380.2 116.7,380.4C118.4,380.6 120.3,379.3 122.4,378.1C124.5,377.0 127.0,374.7 129.3,373.6C131.6,372.4 133.9,371.1 136.1,371.3C138.4,371.5 140.3,373.8 143.0,374.7C145.7,375.7 149.1,376.2 152.1,377.0C155.2,377.8 158.2,379.1 161.3,379.3C164.3,379.5 168.1,378.4 170.4,378.1C172.7,377.9 173.9,377.6 175.0,377.7C176.1,377.8 175.0,378.8 176.9,378.6C178.7,378.4 182.2,377.0 186.0,376.3C189.8,375.7 196.3,374.4 199.7,374.7C203.1,375.0 203.9,378.1 206.6,378.1C209.2,378.2 212.3,375.5 215.7,375.2C219.1,374.9 223.3,376.0 227.1,376.3C231.0,376.6 235.1,376.4 238.6,377.0C242.0,377.6 245.0,379.3 247.7,380.0C250.4,380.6 252.3,380.0 254.6,380.9C256.9,381.7 258.8,383.6 261.4,385.0C264.1,386.4 267.1,387.1 270.6,389.6C274.0,392.0 278.2,397.6 282.0,399.9C285.8,402.1 289.2,401.6 293.4,403.3C297.6,405.0 303.3,407.9 307.1,410.1C311.0,412.4 313.6,415.3 316.3,417.0C319.0,418.7 322.0,419.9 323.1,420.4" fill="none" stroke="#ff0000" stroke-width="1.6" stroke-linejoin="round"/>
<polyline points="18.9,503.3 21.9,502.1 24.1,499.9 27.6,504.4 35.6,504.4 37.9,498.7 41.3,501.0 44.7,504.4 51.6,504.4 55.0,502.1 58.4,504.4 61.9,502.1 64.1,504.4 67.6,504.4 72.1,497.6 75.6,495.3 80.1,493.0 83.6,486.1 87.0,483.9 90.4,489.6 93.9,491.9 97.3,479.3 100.7,462.1 104.1,469.0 107.6,481.6 109.9,488.4 112.1,474.7 114.4,471.3 116.7,477.0 119.0,482.7 123.6,478.1 127.0,474.7 131.6,469.0 136.1,470.1 141.9,463.3 146.4,475.9 152.1,461.0 156.7,449.6 159.0,451.9 165.9,445.0 172.7,432.4 174.6,428.4 179.1,430.7 187.1,421.6 192.9,426.1 197.4,429.6 203.1,420.4 207.7,429.6 214.6,430.7 219.1,425.0 222.6,430.7 229.4,431.9 236.3,439.3 243.1,435.9 250.0,446.1 252.3,449.6 259.1,441.6 263.7,448.4 266.0,455.3 271.7,454.1 275.1,451.9 278.6,456.4 284.3,463.3 288.9,459.9 294.6,465.6 300.3,466.7 303.7,471.3 308.3,465.6 311.7,473.6 316.3,479.3 319.7,477.0 323.1,474.7" fill="none" stroke="#1fd083" stroke-width="1.75" stroke-linejoin="round"/>
</g>
<rect x="19.0" y="356.2" width="304.0" height="149.0" fill="none" stroke="#7a7a7a" stroke-width="1.1"/>
<path d="M19.0,505.2v-3M19.0,356.2v3M36.6,505.2v-3M36.6,356.2v3M54.2,505.2v-3M54.2,356.2v3M71.8,505.2v-3M71.8,356.2v3M89.4,505.2v-3M89.4,356.2v3M107.0,505.2v-3M107.0,356.2v3M124.6,505.2v-3M124.6,356.2v3M142.2,505.2v-3M142.2,356.2v3M159.8,505.2v-3M159.8,356.2v3M177.4,505.2v-3M177.4,356.2v3M195.0,505.2v-3M195.0,356.2v3M212.6,505.2v-3M212.6,356.2v3M230.2,505.2v-3M230.2,356.2v3M247.9,505.2v-3M247.9,356.2v3M265.5,505.2v-3M265.5,356.2v3M283.1,505.2v-3M283.1,356.2v3M300.7,505.2v-3M300.7,356.2v3M318.3,505.2v-3M318.3,356.2v3M19.0,505.2h3M19.0,467.9h3M19.0,430.7h3M19.0,393.4h3M19.0,356.2h3M323.0,505.2h-3M323.0,475.4h-3M323.0,445.6h-3M323.0,415.8h-3M323.0,386.0h-3M323.0,356.2h-3" stroke="#555555" stroke-width="0.9" fill="none"/>
<text x="19.0" y="516.4" text-anchor="middle" class="tl">0</text>
<text x="36.6" y="516.4" text-anchor="middle" class="tl">6</text>
<text x="54.2" y="516.4" text-anchor="middle" class="tl">12</text>
<text x="71.8" y="516.4" text-anchor="middle" class="tl">18</text>
<text x="89.4" y="516.4" text-anchor="middle" class="tl">24</text>
<text x="107.0" y="516.4" text-anchor="middle" class="tl">30</text>
<text x="124.6" y="516.4" text-anchor="middle" class="tl">36</text>
<text x="142.2" y="516.4" text-anchor="middle" class="tl">42</text>
<text x="159.8" y="516.4" text-anchor="middle" class="tl">48</text>
<text x="177.4" y="516.4" text-anchor="middle" class="tl">54</text>
<text x="195.0" y="516.4" text-anchor="middle" class="tl">60</text>
<text x="212.6" y="516.4" text-anchor="middle" class="tl">66</text>
<text x="230.2" y="516.4" text-anchor="middle" class="tl">72</text>
<text x="247.9" y="516.4" text-anchor="middle" class="tl">78</text>
<text x="265.5" y="516.4" text-anchor="middle" class="tl">84</text>
<text x="283.1" y="516.4" text-anchor="middle" class="tl">90</text>
<text x="300.7" y="516.4" text-anchor="middle" class="tl">96</text>
<text x="318.3" y="516.4" text-anchor="middle" class="tl">102</text>
<text x="15.5" y="508.2" text-anchor="end" class="tl">0</text>
<text x="15.5" y="470.9" text-anchor="end" class="tl">2</text>
<text x="15.5" y="433.7" text-anchor="end" class="tl">4</text>
<text x="15.5" y="396.4" text-anchor="end" class="tl">6</text>
<text x="15.5" y="359.2" text-anchor="end" class="tl">8</text>
<text x="326.0" y="508.2" text-anchor="start" class="tl">0</text>
<text x="326.0" y="478.4" text-anchor="start" class="tl">2</text>
<text x="326.0" y="448.6" text-anchor="start" class="tl">4</text>
<text x="326.0" y="418.8" text-anchor="start" class="tl">6</text>
<text x="326.0" y="389.0" text-anchor="start" class="tl">8</text>
<text x="326.0" y="359.2" text-anchor="start" class="tl">10</text>
<text x="171.0" y="525.9" text-anchor="middle" class="al" textLength="36.4" lengthAdjust="spacingAndGlyphs">Time [ns]</text>
<text transform="translate(7.5,430.7) rotate(-90)" text-anchor="middle" class="al" textLength="55.5" lengthAdjust="spacingAndGlyphs">Position [mm]</text>
<text transform="translate(343.5,430.7) rotate(-90)" text-anchor="middle" class="al" textLength="100" lengthAdjust="spacingAndGlyphs">Current [A], Voltage [kV]</text>
<rect x="19.3" y="356.0" width="52" height="35.6" fill="#ffffff" stroke="#8a8a8a" stroke-width="1"/>
<line x1="19.3" y1="370.2" x2="71.3" y2="370.2" stroke="#909090" stroke-width="1.1"/>
<text x="45.3" y="365.4" text-anchor="middle" class="lt">Air - 26.2ns</text>
<line x1="20.8" y1="375.3" x2="38.8" y2="375.3" stroke="#1fd083" stroke-width="1.6"/>
<line x1="20.8" y1="385.6" x2="38.8" y2="385.6" stroke="#ff0000" stroke-width="1.5"/>
<text x="40.8" y="378.0" class="le" textLength="27.5" lengthAdjust="spacingAndGlyphs">Current</text>
<text x="40.8" y="388.2" class="le" textLength="26.5" lengthAdjust="spacingAndGlyphs">Voltage</text>
<clipPath id="clip12"><rect x="373.2" y="356.2" width="304.0" height="149.0"/></clipPath>
<rect x="373.2" y="356.2" width="304.0" height="149.0" fill="#ebebeb"/>
<g clip-path="url(#clip12)">
<g filter="url(#modl)"><rect x="420.0" y="356.2" width="9.7" height="149.0" fill="#eeeeee" />
<rect x="429.1" y="356.2" width="17.2" height="149.0" fill="#d4d4d4" />
<rect x="445.7" y="356.2" width="10.6" height="149.0" fill="#b4b4b4" />
<rect x="455.7" y="356.2" width="178.9" height="149.0" fill="#a6a6a6" />
<polygon points="456.0,356.2 555.0,356.2 530.0,390.0 495.0,420.0 456.0,440.0" fill="#b8b8b8" filter="url(#b4)"/>
<polygon points="445.0,505.2 445.0,472.0 467.0,458.0 489.0,444.0 508.0,430.0 527.0,420.0 541.0,406.0 556.0,392.0 565.0,375.0 570.0,356.2 634.3,356.2 634.3,505.2" fill="#606060" filter="url(#b4)" opacity="0.7"/>
<polygon points="445.0,505.2 445.0,488.0 461.0,477.0 478.0,467.0 489.0,454.0 508.5,440.0 527.5,430.0 540.9,417.0 556.0,403.0 569.0,384.0 574.0,368.0 576.0,356.2 634.3,356.2 634.3,505.2" fill="#161616" filter="url(#b1)"/></g><g filter="url(#mods)"><polygon points="446.0,505.2 446.0,494.9 461.4,482.9 478.6,472.6 488.9,460.6 506.0,448.6 527.5,437.0 540.9,422.6 556.0,409.3 560.0,399.7 569.4,390.2 575.0,375.0 579.0,356.2 634.3,356.2 634.3,505.2" fill="#4a0cc0" />
<polygon points="552.0,478.0 556.0,440.0 568.0,410.0 584.0,395.0 598.0,415.0 600.0,465.0 580.0,488.0" fill="#ff0010" opacity="0.55" filter="url(#b4)"/>
<polygon points="452.0,505.2 452.0,501.0 461.4,495.0 478.6,486.0 488.9,476.0 506.0,466.0 527.0,458.0 540.0,455.0 545.0,480.0 535.0,505.2" fill="#ff1010" filter="url(#b2)" opacity="0.6"/>
<polygon points="608.0,356.2 634.3,356.2 634.3,505.2 608.0,505.2" fill="#101010" opacity="0.6" filter="url(#b2)"/>
<polygon points="429.4,505.2 429.4,499.0 446.0,497.0 446.0,505.2" fill="#4a0cc0" /></g><g filter="url(#mody)"><polygon points="456.0,505.2 456.0,492.0 470.0,486.0 480.0,482.0 490.0,478.0 500.0,475.0 506.0,480.0 500.0,505.2" fill="#ff7000" filter="url(#b1)" opacity="0.85"/>
<polygon points="429.4,505.2 429.4,499.0 446.0,498.0 446.0,490.0 455.0,488.0 466.0,490.0 472.0,489.0 478.0,496.0 481.0,505.2" fill="#ffff00" /></g>
<path d="M373.6,496.0C373.6,495.9 372.5,496.2 373.4,495.3C374.4,494.4 377.0,492.4 379.1,490.7C381.2,489.0 383.3,487.9 386.0,485.0C388.7,482.1 392.1,478.0 395.1,473.6C398.2,469.2 401.8,463.3 404.3,458.7C406.8,454.1 408.1,449.6 410.0,446.1C411.9,442.7 414.0,441.0 415.7,438.1C417.4,435.3 419.3,431.0 420.3,429.0C421.2,427.0 420.3,428.1 421.4,426.1C422.6,424.1 424.7,419.7 427.1,417.0C429.6,414.3 433.6,412.0 436.3,410.1C439.0,408.2 441.2,407.9 443.1,405.6C445.0,403.3 446.2,399.9 447.7,396.4C449.2,393.0 450.8,388.0 452.3,385.0C453.8,382.0 455.3,379.7 456.9,378.1C458.4,376.6 459.9,376.2 461.4,375.9C463.0,375.6 464.5,375.7 466.0,376.3C467.5,376.9 468.9,378.9 470.6,379.3C472.3,379.7 474.4,379.6 476.3,378.6C478.2,377.6 479.9,374.9 482.0,373.6C484.1,372.3 486.6,371.0 488.9,370.8C491.1,370.6 493.4,371.7 495.7,372.4C498.0,373.2 499.9,374.8 502.6,375.4C505.2,376.0 508.7,375.8 511.7,375.9C514.8,375.9 517.8,375.9 520.9,375.9C523.9,375.8 527.8,375.6 530.0,375.4C532.2,375.2 532.3,375.0 534.1,374.7C536.0,374.4 538.0,373.7 541.0,373.6C544.0,373.5 549.4,373.7 552.4,374.0C555.5,374.3 556.6,375.3 559.3,375.4C562.0,375.5 565.0,374.8 568.4,374.7C571.9,374.7 576.4,374.9 579.9,375.2C583.3,375.4 586.3,376.1 589.0,376.3C591.7,376.5 593.4,376.0 595.9,376.5C598.3,377.0 601.2,378.4 603.9,379.3C606.5,380.1 609.0,380.2 611.9,381.6C614.7,382.9 618.0,385.2 621.0,387.3C624.0,389.4 627.1,392.2 630.1,394.1C633.2,396.0 636.2,397.2 639.3,398.7C642.3,400.2 645.8,402.3 648.4,403.3C651.1,404.2 653.0,403.5 655.3,404.4C657.6,405.4 659.9,407.3 662.1,409.0C664.4,410.7 666.3,412.8 669.0,414.7C671.7,416.6 676.6,419.5 678.1,420.4" fill="none" stroke="#ff0000" stroke-width="1.6" stroke-linejoin="round"/>
<polyline points="373.7,504.4 376.9,503.3 381.4,502.1 383.7,499.9 386.0,504.4 392.9,504.4 397.4,501.0 400.9,502.1 404.3,504.4 411.1,504.4 414.6,498.7 416.9,497.6 419.1,504.4 422.6,504.4 427.1,499.9 429.4,497.6 434.0,497.6 438.6,496.4 442.0,497.6 445.4,495.3 450.0,489.6 453.4,477.0 455.7,474.7 458.0,479.3 460.3,490.7 463.7,502.1 467.1,490.7 469.4,488.4 472.9,494.1 476.3,493.0 479.7,491.9 484.3,490.7 488.9,491.9 493.4,493.0 498.0,495.3 502.6,499.9 507.1,495.3 514.0,495.3 520.9,494.1 530.0,494.1 530.7,495.3 535.3,496.4 541.0,493.0 546.7,497.6 552.4,497.6 557.0,490.7 561.6,495.3 566.1,497.6 573.0,490.7 579.9,491.9 586.7,494.1 593.6,488.4 600.4,487.3 607.3,489.6 614.1,486.1 621.0,488.4 627.9,487.3 634.7,488.9 641.6,489.6 648.4,491.2 655.3,489.6 662.1,487.3 669.0,494.1 678.1,490.7" fill="none" stroke="#1fd083" stroke-width="1.75" stroke-linejoin="round"/>
</g>
<rect x="373.2" y="356.2" width="304.0" height="149.0" fill="none" stroke="#7a7a7a" stroke-width="1.1"/>
<path d="M373.2,505.2v-3M373.2,356.2v3M390.8,505.2v-3M390.8,356.2v3M408.4,505.2v-3M408.4,356.2v3M426.0,505.2v-3M426.0,356.2v3M443.6,505.2v-3M443.6,356.2v3M461.2,505.2v-3M461.2,356.2v3M478.8,505.2v-3M478.8,356.2v3M496.4,505.2v-3M496.4,356.2v3M514.0,505.2v-3M514.0,356.2v3M531.6,505.2v-3M531.6,356.2v3M549.2,505.2v-3M549.2,356.2v3M566.8,505.2v-3M566.8,356.2v3M584.4,505.2v-3M584.4,356.2v3M602.1,505.2v-3M602.1,356.2v3M619.7,505.2v-3M619.7,356.2v3M637.3,505.2v-3M637.3,356.2v3M654.9,505.2v-3M654.9,356.2v3M672.5,505.2v-3M672.5,356.2v3M373.2,505.2h3M373.2,467.9h3M373.2,430.7h3M373.2,393.4h3M373.2,356.2h3M677.2,505.2h-3M677.2,475.4h-3M677.2,445.6h-3M677.2,415.8h-3M677.2,386.0h-3M677.2,356.2h-3" stroke="#555555" stroke-width="0.9" fill="none"/>
<text x="373.2" y="516.4" text-anchor="middle" class="tl">0</text>
<text x="390.8" y="516.4" text-anchor="middle" class="tl">6</text>
<text x="408.4" y="516.4" text-anchor="middle" class="tl">12</text>
<text x="426.0" y="516.4" text-anchor="middle" class="tl">18</text>
<text x="443.6" y="516.4" text-anchor="middle" class="tl">24</text>
<text x="461.2" y="516.4" text-anchor="middle" class="tl">30</text>
<text x="478.8" y="516.4" text-anchor="middle" class="tl">36</text>
<text x="496.4" y="516.4" text-anchor="middle" class="tl">42</text>
<text x="514.0" y="516.4" text-anchor="middle" class="tl">48</text>
<text x="531.6" y="516.4" text-anchor="middle" class="tl">54</text>
<text x="549.2" y="516.4" text-anchor="middle" class="tl">60</text>
<text x="566.8" y="516.4" text-anchor="middle" class="tl">66</text>
<text x="584.4" y="516.4" text-anchor="middle" class="tl">72</text>
<text x="602.1" y="516.4" text-anchor="middle" class="tl">78</text>
<text x="619.7" y="516.4" text-anchor="middle" class="tl">84</text>
<text x="637.3" y="516.4" text-anchor="middle" class="tl">90</text>
<text x="654.9" y="516.4" text-anchor="middle" class="tl">96</text>
<text x="672.5" y="516.4" text-anchor="middle" class="tl">102</text>
<text x="369.7" y="508.2" text-anchor="end" class="tl">0</text>
<text x="369.7" y="470.9" text-anchor="end" class="tl">2</text>
<text x="369.7" y="433.7" text-anchor="end" class="tl">4</text>
<text x="369.7" y="396.4" text-anchor="end" class="tl">6</text>
<text x="369.7" y="359.2" text-anchor="end" class="tl">8</text>
<text x="680.2" y="508.2" text-anchor="start" class="tl">0</text>
<text x="680.2" y="478.4" text-anchor="start" class="tl">2</text>
<text x="680.2" y="448.6" text-anchor="start" class="tl">4</text>
<text x="680.2" y="418.8" text-anchor="start" class="tl">6</text>
<text x="680.2" y="389.0" text-anchor="start" class="tl">8</text>
<text x="680.2" y="359.2" text-anchor="start" class="tl">10</text>
<text x="525.2" y="525.9" text-anchor="middle" class="al" textLength="36.4" lengthAdjust="spacingAndGlyphs">Time [ns]</text>
<text transform="translate(361.7,430.7) rotate(-90)" text-anchor="middle" class="al" textLength="55.5" lengthAdjust="spacingAndGlyphs">Position [mm]</text>
<text transform="translate(697.7,430.7) rotate(-90)" text-anchor="middle" class="al" textLength="100" lengthAdjust="spacingAndGlyphs">Current [A], Voltage [kV]</text>
<rect x="373.5" y="356.0" width="52" height="35.6" fill="#ffffff" stroke="#8a8a8a" stroke-width="1"/>
<line x1="373.5" y1="370.2" x2="425.5" y2="370.2" stroke="#909090" stroke-width="1.1"/>
<text x="399.5" y="365.4" text-anchor="middle" class="lt">N<tspan font-size="6" dy="1.5">2</tspan><tspan dy="-1.5"> - 26.2ns</tspan></text>
<line x1="375.0" y1="375.3" x2="393.0" y2="375.3" stroke="#1fd083" stroke-width="1.6"/>
<line x1="375.0" y1="385.6" x2="393.0" y2="385.6" stroke="#ff0000" stroke-width="1.5"/>
<text x="395.0" y="378.0" class="le" textLength="27.5" lengthAdjust="spacingAndGlyphs">Current</text>
<text x="395.0" y="388.2" class="le" textLength="26.5" lengthAdjust="spacingAndGlyphs">Voltage</text>
<text x="172.7" y="544.3" text-anchor="middle" class="cap">(a)</text>
<text x="527.3" y="544.3" text-anchor="middle" class="cap">(b)</text>
</svg></body></html>
